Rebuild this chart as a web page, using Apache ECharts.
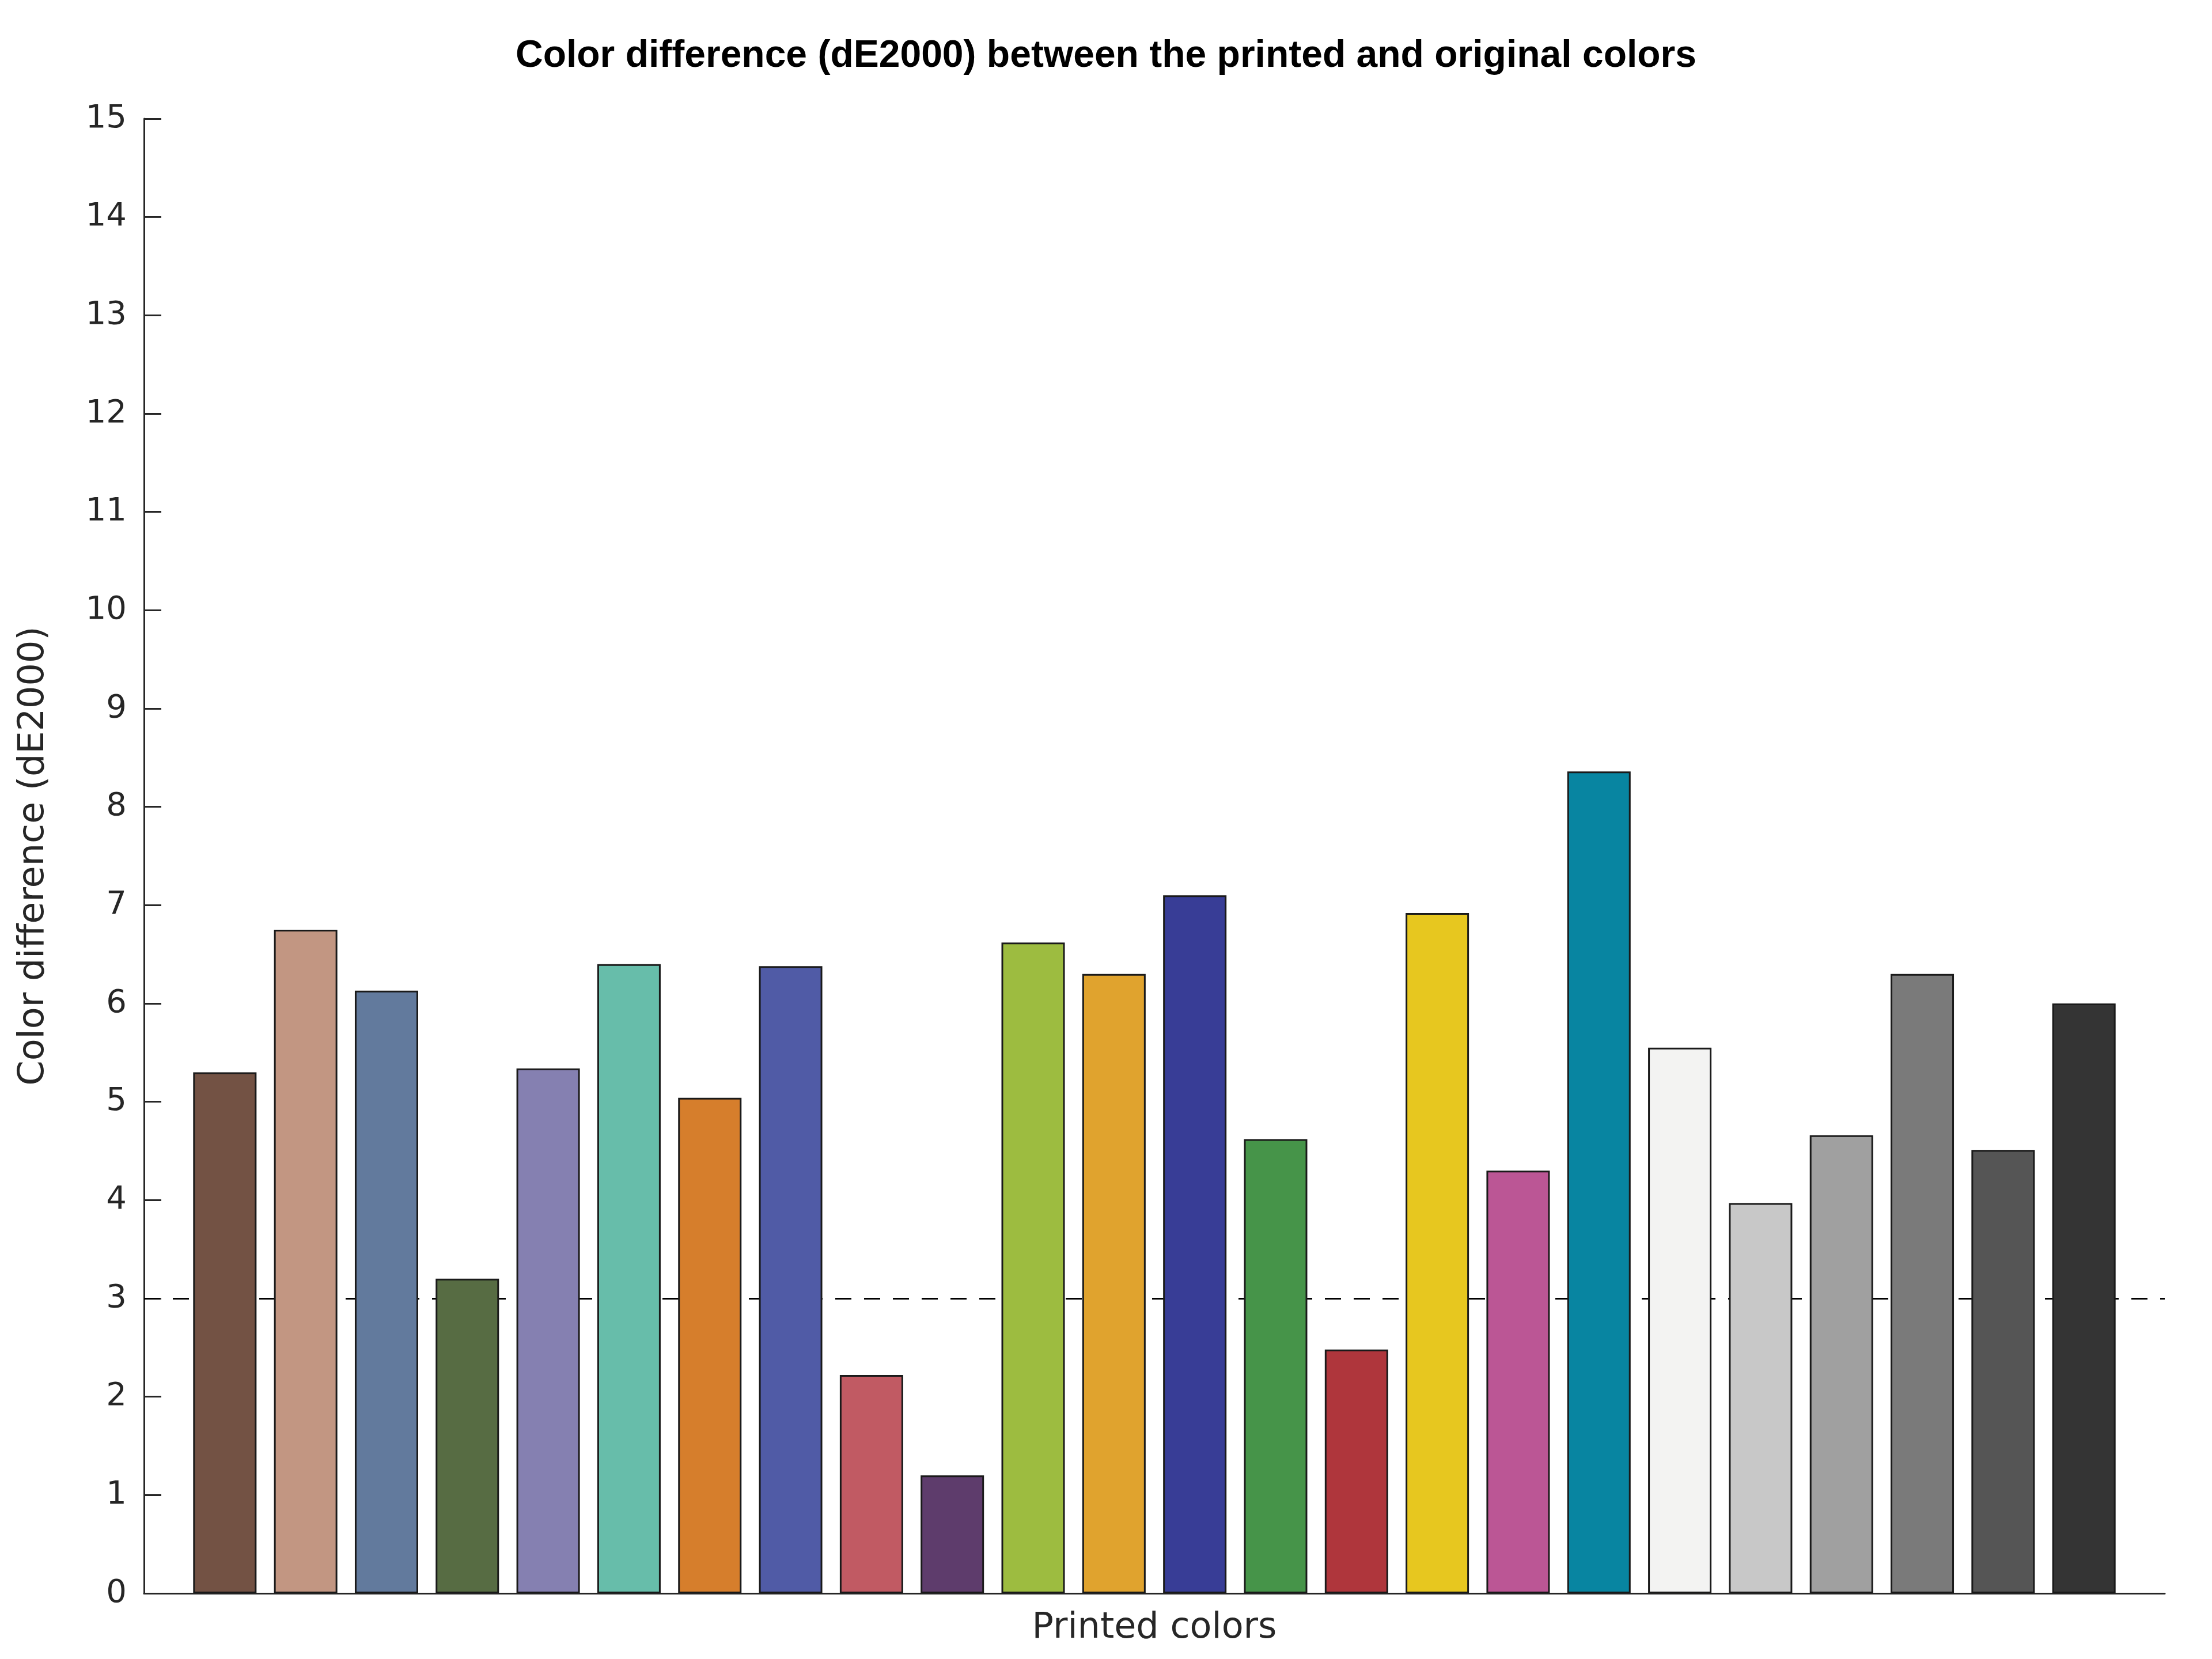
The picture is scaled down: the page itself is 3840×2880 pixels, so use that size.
<!DOCTYPE html>
<html>
<head>
<meta charset="utf-8">
<script src="https://cdn.jsdelivr.net/npm/echarts@6/dist/echarts.min.js"></script>
<style>html,body{margin:0;padding:0;background:#fff}#c{width:3840px;height:2880px}</style>
</head>
<body>
<div id="c"></div>
<script>
var positions = [1,2,3,4,5,6,7,8,9,10,11,12,13,14,15,16,17,18,19,20,21,22,23,24];
var values = [5.3,6.75,6.13,3.2,5.34,6.4,5.04,6.38,2.22,1.2,6.62,6.3,7.1,4.62,2.48,6.92,4.3,8.36,5.55,3.97,4.66,6.3,4.51,6.0];
var colors = ['#735244','#c29682','#627a9d','#576c43','#8580b1','#67bdaa','#d67e2c','#505ba6','#c15a63','#5e3c6c','#9dbc40','#e0a32e','#383d96','#469449','#af363c','#e7c71f','#bb5695','#0885a1','#f3f3f2','#c8c8c8','#a0a0a0','#7a7a7a','#555555','#343434'];
var yTicks = [0,1,2,3,4,5,6,7,8,9,10,11,12,13,14,15];
var threshold = 3;

var chart = echarts.init(document.getElementById('c'));
var data = positions.map(function (p, i) {
    return { value: [p, values[i]], itemStyle: { color: colors[i] } };
});
chart.setOption({
    animation: false,
    backgroundColor: '#fff',
    title: {
        text: 'Color difference (dE2000) between the printed and original colors',
        left: 'center',
        top: 60,
        textStyle: { fontFamily: 'Liberation Sans', fontWeight: 'bold', fontSize: 66, color: '#000' }
    },
    grid: { left: 250, right: 82, top: 206, bottom: 114 },
    xAxis: {
        type: 'value', min: 0, max: 25,
        name: 'Printed colors', nameLocation: 'middle', nameGap: 30,
        nameTextStyle: { fontFamily: 'DejaVu Sans', fontSize: 62, color: '#262626', verticalAlign: 'top' },
        axisLine: { lineStyle: { color: '#262626', width: 3 } },
        axisTick: { show: false }, axisLabel: { show: false }, splitLine: { show: false }
    },
    yAxis: {
        type: 'value', min: 0, max: 15, interval: 1,
        name: 'Color difference (dE2000)', nameLocation: 'middle', nameGap: 160,
        nameTextStyle: { fontFamily: 'DejaVu Sans', fontSize: 62, color: '#262626' },
        axisLine: { show: true, lineStyle: { color: '#262626', width: 3 } },
        axisTick: { show: true, inside: true, length: 30, lineStyle: { color: '#262626', width: 3 } },
        axisLabel: { fontFamily: 'DejaVu Sans', fontSize: 56, color: '#262626', margin: 30,
            formatter: function (v) { return yTicks.indexOf(v) >= 0 ? String(v) : ''; } },
        splitLine: { show: false }
    },
    series: [{
        type: 'bar',
        barWidth: 110,
        data: data,
        itemStyle: { borderColor: '#1a1a1a', borderWidth: 3 },
        markLine: {
            silent: true, symbol: 'none', label: { show: false },
            lineStyle: { color: '#000', type: [28, 22], width: 3 },
            data: [{ yAxis: threshold }],
            z: 1
        }
    }]
});
</script>
</body>
</html>
